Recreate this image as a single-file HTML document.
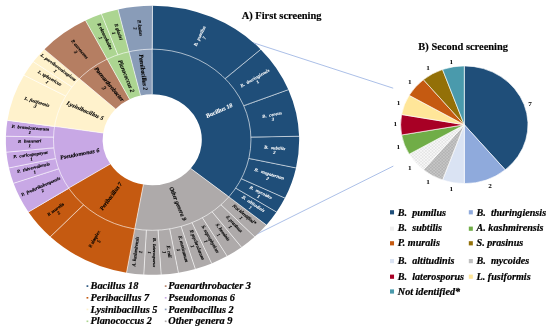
<!DOCTYPE html>
<html><head><meta charset="utf-8"><style>
html,body{margin:0;padding:0;background:#fff;}
body{width:550px;height:330px;overflow:hidden;}
svg{display:block;}
text{font-family:"Liberation Serif","Times New Roman",serif;}
.gi{font-size:5.7px;font-weight:bold;font-style:italic;text-anchor:middle;stroke-width:0.12px;}
.sp{font-size:4.5px;font-weight:bold;font-style:italic;text-anchor:middle;stroke-width:0.12px;}
.sp[fill="#fff"]{stroke-width:0.06px;}
.ttl{font-size:10px;font-weight:bold;stroke:#000;stroke-width:0.15px;}
.lg{font-size:9.3px;font-weight:bold;font-style:italic;}
.lg text{stroke:#000;stroke-width:0.2px;}
.pn{font-size:6.6px;font-weight:bold;text-anchor:middle;}
</style></head><body>
<svg width="550" height="330" viewBox="0 0 550 330">
<defs>
<pattern id="pgray" width="3" height="3" patternUnits="userSpaceOnUse"><rect width="3" height="3" fill="#c6c6c6"/><rect width="1.5" height="1.5" fill="#b3b3b3"/><rect x="1.5" y="1.5" width="1.5" height="1.5" fill="#b3b3b3"/></pattern>
<pattern id="pwhite" width="3" height="3" patternUnits="userSpaceOnUse"><rect width="3" height="3" fill="#f8f8f8"/><rect width="1.5" height="1.5" fill="#e4e4e4"/><rect x="1.5" y="1.5" width="1.5" height="1.5" fill="#e4e4e4"/></pattern>
</defs>
<g transform="scale(1.09,1)">
<line x1="229.36" y1="41.7" x2="360.73" y2="88.2" stroke="#93ade0" stroke-width="0.75"/>
<line x1="232.48" y1="235.8" x2="360.83" y2="166.1" stroke="#93ade0" stroke-width="0.75"/>
<path d="M139.91 5.7A134.55 134.55 0 0 1 239.18 49.43L204.54 81.12A87.6 87.6 0 0 0 139.91 52.65Z" fill="#1f4e79"/>
<path d="M239.18 49.43A134.55 134.55 0 0 1 264.59 89.68L221.09 107.33A87.6 87.6 0 0 0 204.54 81.12Z" fill="#1f4e79"/>
<path d="M264.59 89.68A134.55 134.55 0 0 1 274.4 136.26L227.47 137.65A87.6 87.6 0 0 0 221.09 107.33Z" fill="#1f4e79"/>
<path d="M274.4 136.26A134.55 134.55 0 0 1 271.57 167.96L225.63 158.29A87.6 87.6 0 0 0 227.47 137.65Z" fill="#1f4e79"/>
<path d="M271.57 167.96A134.55 134.55 0 0 1 261.38 198.12L218.99 177.92A87.6 87.6 0 0 0 225.63 158.29Z" fill="#1f4e79"/>
<path d="M261.38 198.12A134.55 134.55 0 0 1 253.68 212.08L213.98 187.01A87.6 87.6 0 0 0 218.99 177.92Z" fill="#1f4e79"/>
<path d="M253.68 212.08A134.55 134.55 0 0 1 244.39 225.03L207.93 195.45A87.6 87.6 0 0 0 213.98 187.01Z" fill="#1f4e79"/>
<path d="M244.39 225.03A134.55 134.55 0 0 1 233.63 236.79L200.93 203.1A87.6 87.6 0 0 0 207.93 195.45Z" fill="#aeaaaa"/>
<path d="M233.63 236.79A134.55 134.55 0 0 1 221.55 247.2L193.06 209.88A87.6 87.6 0 0 0 200.93 203.1Z" fill="#aeaaaa"/>
<path d="M221.55 247.2A134.55 134.55 0 0 1 208.33 256.1L184.46 215.68A87.6 87.6 0 0 0 193.06 209.88Z" fill="#aeaaaa"/>
<path d="M208.33 256.1A134.55 134.55 0 0 1 194.15 263.38L175.22 220.42A87.6 87.6 0 0 0 184.46 215.68Z" fill="#aeaaaa"/>
<path d="M194.15 263.38A134.55 134.55 0 0 1 179.2 268.93L165.49 224.03A87.6 87.6 0 0 0 175.22 220.42Z" fill="#aeaaaa"/>
<path d="M179.2 268.93A134.55 134.55 0 0 1 163.71 272.68L155.4 226.47A87.6 87.6 0 0 0 165.49 224.03Z" fill="#aeaaaa"/>
<path d="M163.71 272.68A134.55 134.55 0 0 1 147.88 274.56L145.1 227.7A87.6 87.6 0 0 0 155.4 226.47Z" fill="#aeaaaa"/>
<path d="M147.88 274.56A134.55 134.55 0 0 1 131.94 274.56L134.72 227.7A87.6 87.6 0 0 0 145.1 227.7Z" fill="#aeaaaa"/>
<path d="M131.94 274.56A134.55 134.55 0 0 1 116.11 272.68L124.41 226.47A87.6 87.6 0 0 0 134.72 227.7Z" fill="#aeaaaa"/>
<path d="M116.11 272.68A134.55 134.55 0 0 1 46.19 236.79L78.89 203.1A87.6 87.6 0 0 0 124.41 226.47Z" fill="#c55a11"/>
<path d="M46.19 236.79A134.55 134.55 0 0 1 26.13 212.08L65.83 187.01A87.6 87.6 0 0 0 78.89 203.1Z" fill="#c55a11"/>
<path d="M26.13 212.08A134.55 134.55 0 0 1 12.45 183.34L56.92 168.31A87.6 87.6 0 0 0 65.83 187.01Z" fill="#c8a8e5"/>
<path d="M12.45 183.34A134.55 134.55 0 0 1 8.24 167.96L54.19 158.29A87.6 87.6 0 0 0 56.92 168.31Z" fill="#c8a8e5"/>
<path d="M8.24 167.96A134.55 134.55 0 0 1 5.89 152.2L52.65 148.03A87.6 87.6 0 0 0 54.19 158.29Z" fill="#c8a8e5"/>
<path d="M5.89 152.2A134.55 134.55 0 0 1 5.42 136.26L52.35 137.65A87.6 87.6 0 0 0 52.65 148.03Z" fill="#c8a8e5"/>
<path d="M5.42 136.26A134.55 134.55 0 0 1 6.83 120.38L53.27 127.32A87.6 87.6 0 0 0 52.35 137.65Z" fill="#c8a8e5"/>
<path d="M6.83 120.38A134.55 134.55 0 0 1 22.08 75.29L63.19 97.96A87.6 87.6 0 0 0 53.27 127.32Z" fill="#fff2cc"/>
<path d="M22.08 75.29A134.55 134.55 0 0 1 30.59 61.81L68.73 89.18A87.6 87.6 0 0 0 63.19 97.96Z" fill="#fff2cc"/>
<path d="M30.59 61.81A134.55 134.55 0 0 1 40.63 49.43L75.27 81.12A87.6 87.6 0 0 0 68.73 89.18Z" fill="#fff2cc"/>
<path d="M40.63 49.43A134.55 134.55 0 0 1 78.47 20.55L99.91 62.32A87.6 87.6 0 0 0 75.27 81.12Z" fill="#b57e62"/>
<path d="M78.47 20.55A134.55 134.55 0 0 1 93.06 14.12L109.41 58.13A87.6 87.6 0 0 0 99.91 62.32Z" fill="#acd591"/>
<path d="M93.06 14.12A134.55 134.55 0 0 1 108.3 9.46L119.33 55.1A87.6 87.6 0 0 0 109.41 58.13Z" fill="#acd591"/>
<path d="M108.3 9.46A134.55 134.55 0 0 1 139.91 5.7L139.91 52.65A87.6 87.6 0 0 0 119.33 55.1Z" fill="#899cb8"/>
<path d="M139.63 49.15A90.6 90.6 0 0 1 209.99 196.84L174.96 168.42A45.5 45.5 0 0 0 139.63 94.25Z" fill="#1f4e79"/>
<path d="M209.99 196.84A90.6 90.6 0 0 1 123.61 228.92L131.58 184.53A45.5 45.5 0 0 0 174.96 168.42Z" fill="#aeaaaa"/>
<path d="M123.61 228.92A90.6 90.6 0 0 1 63.02 188.11L101.16 164.04A45.5 45.5 0 0 0 131.58 184.53Z" fill="#c55a11"/>
<path d="M63.02 188.11A90.6 90.6 0 0 1 50.03 126.37L94.63 133.03A45.5 45.5 0 0 0 101.16 164.04Z" fill="#c8a8e5"/>
<path d="M50.03 126.37A90.6 90.6 0 0 1 72.79 78.6L106.06 109.04A45.5 45.5 0 0 0 94.63 133.03Z" fill="#fff2cc"/>
<path d="M72.79 78.6A90.6 90.6 0 0 1 98.26 59.15L118.86 99.27A45.5 45.5 0 0 0 106.06 109.04Z" fill="#b57e62"/>
<path d="M98.26 59.15A90.6 90.6 0 0 1 118.35 51.68L128.95 95.52A45.5 45.5 0 0 0 118.86 99.27Z" fill="#acd591"/>
<path d="M118.35 51.68A90.6 90.6 0 0 1 139.63 49.15L139.63 94.25A45.5 45.5 0 0 0 128.95 95.52Z" fill="#899cb8"/>
<path d="M139.63 94.25L139.63 49.15M174.96 168.42L209.99 196.84M131.58 184.53L123.61 228.92M101.16 164.04L63.02 188.11M94.63 133.03L50.03 126.37M106.06 109.04L72.79 78.6M118.86 99.27L98.26 59.15M128.95 95.52L118.35 51.68M139.63 49.15L139.91 5.4M206.48 78.6L239.41 49.23M223.59 105.7L264.87 89.57M230.19 137.07L274.7 136.25M228.29 158.41L271.87 168.03M221.43 178.71L261.65 198.24M216.24 188.11L253.94 212.24M209.99 196.84L244.62 225.22M202.74 204.76L233.84 237.01M194.61 211.76L221.74 247.44M185.71 217.76L208.48 256.36M176.16 222.66L194.27 263.66M166.09 226.4L179.29 269.22M155.66 228.92L163.76 272.97M145 230.19L147.9 274.86M134.27 230.19L131.92 274.86M123.61 228.92L116.05 272.97M76.53 204.76L45.98 237.01M63.02 188.11L25.88 212.24M53.81 168.77L12.16 183.44M50.98 158.41L7.95 168.03M49.39 147.79L5.59 152.22M49.07 137.07L5.12 136.25M50.03 126.37L6.54 120.34M60.29 96.01L21.82 75.15M66.02 86.93L30.34 61.64M72.79 78.6L40.41 49.23M98.26 59.15L78.33 20.28M108.09 54.82L92.95 13.84M118.35 51.68L108.23 9.17" stroke="#fff" stroke-opacity="0.85" stroke-width="0.7" fill="none"/>
<circle cx="139.63" cy="139.75" r="90.6" stroke="#fff" stroke-opacity="0.85" stroke-width="0.7" fill="none"/>
<text class="gi" transform="translate(201.07 110.48) rotate(-25.47)" fill="#fff" stroke="#fff" y="2">Bacillus 18</text>
<text class="gi" transform="translate(163.33 203.54) rotate(69.62)" fill="#000" stroke="#000" y="2">Other genera 9</text>
<text class="gi" transform="translate(101.62 196.19) rotate(303.96)" fill="#000" stroke="#000" y="2">Peribacillus 7</text>
<text class="gi" transform="translate(73.04 153.77) rotate(348.11)" fill="#000" stroke="#000" y="2">Pseudomonas 6</text>
<text class="gi" transform="translate(78.2 110.48) rotate(385.47)" fill="#000" stroke="#000" y="2">Lysinibacillus 5</text>
<text class="gi" transform="translate(98.34 85.66) rotate(412.64)" fill="#000" stroke="#000"><tspan x="0" y="-0.6">Paenarthrobacter</tspan><tspan x="0" y="5.6">3</tspan></text>
<text class="gi" transform="translate(115.94 75.96) rotate(429.62)" fill="#000" stroke="#000" y="2">Planococcus 2</text>
<text class="gi" transform="translate(131.58 72.18) rotate(443.21)" fill="#000" stroke="#000" y="2">Paenibacillus 2</text>
<text class="sp" transform="translate(185.15 36.98) rotate(-66.23)" fill="#fff" stroke="#fff"><tspan x="0" y="-0.7">B.  pumilus</tspan><tspan x="0" y="4">7</tspan></text>
<text class="sp" transform="translate(234.96 79.9) rotate(-32.26)" fill="#fff" stroke="#fff"><tspan x="0" y="-0.7">B.  thuringiensis</tspan><tspan x="0" y="4">1</tspan></text>
<text class="sp" transform="translate(249.93 116.81) rotate(-11.89)" fill="#fff" stroke="#fff"><tspan x="0" y="-0.7">B.  cereus</tspan><tspan x="0" y="4">3</tspan></text>
<text class="sp" transform="translate(251.9 150) rotate(5.09)" fill="#fff" stroke="#fff"><tspan x="0" y="-0.7">B.  subtilis</tspan><tspan x="0" y="4">2</tspan></text>
<text class="sp" transform="translate(246.42 176.05) rotate(18.68)" fill="#fff" stroke="#fff"><tspan x="0" y="-0.7">B.  megaterium</tspan><tspan x="0" y="4">2</tspan></text>
<text class="sp" transform="translate(238.36 194.35) rotate(28.87)" fill="#fff" stroke="#fff"><tspan x="0" y="-0.7">B.  mycoides</tspan><tspan x="0" y="4">1</tspan></text>
<text class="sp" transform="translate(231.24 205.63) rotate(35.66)" fill="#fff" stroke="#fff"><tspan x="0" y="-0.7">B.  altitudinis</tspan><tspan x="0" y="4">1</tspan></text>
<text class="sp" transform="translate(222.83 215.99) rotate(42.45)" fill="#000" stroke="#000"><tspan x="0" y="-0.7">Not identified*</tspan><tspan x="0" y="4">1</tspan></text>
<text class="sp" transform="translate(213.26 225.28) rotate(49.25)" fill="#000" stroke="#000"><tspan x="0" y="-0.7">S. prasinus</tspan><tspan x="0" y="4">1</tspan></text>
<text class="sp" transform="translate(202.66 233.37) rotate(56.04)" fill="#000" stroke="#000"><tspan x="0" y="-0.7">S. hominis</tspan><tspan x="0" y="4">1</tspan></text>
<text class="sp" transform="translate(191.18 240.15) rotate(62.83)" fill="#000" stroke="#000"><tspan x="0" y="-0.7">S. saprophyticus</tspan><tspan x="0" y="4">1</tspan></text>
<text class="sp" transform="translate(178.97 245.53) rotate(69.62)" fill="#000" stroke="#000"><tspan x="0" y="-0.7">P. psychrodurans</tspan><tspan x="0" y="4">1</tspan></text>
<text class="sp" transform="translate(166.21 249.43) rotate(76.42)" fill="#000" stroke="#000"><tspan x="0" y="-0.7">E. mexicanum</tspan><tspan x="0" y="4">1</tspan></text>
<text class="sp" transform="translate(153.09 251.78) rotate(83.21)" fill="#000" stroke="#000"><tspan x="0" y="-0.7">E. coli</tspan><tspan x="0" y="4">1</tspan></text>
<text class="sp" transform="translate(139.77 252.57) rotate(90)" fill="#000" stroke="#000"><tspan x="0" y="-0.7">B.  laterosporus</tspan><tspan x="0" y="4">1</tspan></text>
<text class="sp" transform="translate(126.46 251.78) rotate(276.79)" fill="#000" stroke="#000"><tspan x="0" y="-0.7">A. kashmirensis</tspan><tspan x="0" y="4">1</tspan></text>
<text class="sp" transform="translate(88.37 240.15) rotate(297.17)" fill="#000" stroke="#000"><tspan x="0" y="-0.7">P. simplex</tspan><tspan x="0" y="4">5</tspan></text>
<text class="sp" transform="translate(52.35 210.93) rotate(320.94)" fill="#000" stroke="#000"><tspan x="0" y="-0.7">P. muralis</tspan><tspan x="0" y="4">2</tspan></text>
<text class="sp" transform="translate(38.14 188.41) rotate(334.53)" fill="#000" stroke="#000"><tspan x="0" y="-0.7">P.  frederiksbergensis</tspan><tspan x="0" y="4">2</tspan></text>
<text class="sp" transform="translate(31.18 169.67) rotate(344.72)" fill="#000" stroke="#000"><tspan x="0" y="-0.7">P.  thivervalensis</tspan><tspan x="0" y="4">1</tspan></text>
<text class="sp" transform="translate(28.43 156.62) rotate(351.51)" fill="#000" stroke="#000"><tspan x="0" y="-0.7">P.  caricapapayae</tspan><tspan x="0" y="4">1</tspan></text>
<text class="sp" transform="translate(27.25 143.34) rotate(358.3)" fill="#000" stroke="#000"><tspan x="0" y="-0.7">P.  brenneri</tspan><tspan x="0" y="4">1</tspan></text>
<text class="sp" transform="translate(27.64 130) rotate(365.09)" fill="#000" stroke="#000"><tspan x="0" y="-0.7">P.  brassicacearum</tspan><tspan x="0" y="4">1</tspan></text>
<text class="sp" transform="translate(33.13 103.95) rotate(378.68)" fill="#000" stroke="#000"><tspan x="0" y="-0.7">L. fusiformis</tspan><tspan x="0" y="4">3</tspan></text>
<text class="sp" transform="translate(44.58 79.9) rotate(392.26)" fill="#000" stroke="#000"><tspan x="0" y="-0.7">L. sphaericus</tspan><tspan x="0" y="4">1</tspan></text>
<text class="sp" transform="translate(52.35 69.07) rotate(399.06)" fill="#000" stroke="#000"><tspan x="0" y="-0.7">L. parviboronicapiens</tspan><tspan x="0" y="4">1</tspan></text>
<text class="sp" transform="translate(71.46 50.52) rotate(412.64)" fill="#000" stroke="#000"><tspan x="0" y="-0.7">P. aurescens</tspan><tspan x="0" y="4">3</tspan></text>
<text class="sp" transform="translate(94.39 36.98) rotate(426.23)" fill="#000" stroke="#000"><tspan x="0" y="-0.7">P. okeanokoites</tspan><tspan x="0" y="4">1</tspan></text>
<text class="sp" transform="translate(106.89 32.33) rotate(433.02)" fill="#000" stroke="#000"><tspan x="0" y="-0.7">P. glaciei</tspan><tspan x="0" y="4">1</tspan></text>
<text class="sp" transform="translate(126.46 28.22) rotate(443.21)" fill="#000" stroke="#000"><tspan x="0" y="-0.7">P. lautus</tspan><tspan x="0" y="4">2</tspan></text>
<g transform="translate(0 -0.96) scale(1 1.0077)"><path d="M425.96 124.75L425.96 66.35A58.4 58.4 0 0 1 463.5 169.49Z" fill="#1f4e79" stroke="#fff" stroke-width="0.6"/>
<path d="M425.96 124.75L463.5 169.49A58.4 58.4 0 0 1 425.96 183.15Z" fill="#8faadc" stroke="#fff" stroke-width="0.6"/>
<path d="M425.96 124.75L425.96 183.15A58.4 58.4 0 0 1 405.99 179.63Z" fill="#dae3f3" stroke="#fff" stroke-width="0.6"/>
<path d="M425.96 124.75L405.99 179.63A58.4 58.4 0 0 1 388.42 169.49Z" fill="url(#pgray)" stroke="#fff" stroke-width="0.6"/>
<path d="M425.96 124.75L388.42 169.49A58.4 58.4 0 0 1 375.39 153.95Z" fill="url(#pwhite)" stroke="#fff" stroke-width="0.6"/>
<path d="M425.96 124.75L375.39 153.95A58.4 58.4 0 0 1 368.45 134.89Z" fill="#70ad47" stroke="#fff" stroke-width="0.6"/>
<path d="M425.96 124.75L368.45 134.89A58.4 58.4 0 0 1 368.45 114.61Z" fill="#a80025" stroke="#fff" stroke-width="0.6"/>
<path d="M425.96 124.75L368.45 114.61A58.4 58.4 0 0 1 375.39 95.55Z" fill="#ffe699" stroke="#fff" stroke-width="0.6"/>
<path d="M425.96 124.75L375.39 95.55A58.4 58.4 0 0 1 388.42 80.01Z" fill="#c55a11" stroke="#fff" stroke-width="0.6"/>
<path d="M425.96 124.75L388.42 80.01A58.4 58.4 0 0 1 405.99 69.87Z" fill="#937008" stroke="#fff" stroke-width="0.6"/>
<path d="M425.96 124.75L405.99 69.87A58.4 58.4 0 0 1 425.96 66.35Z" fill="#4a9aac" stroke="#fff" stroke-width="0.6"/></g>
<text class="ttl" x="221.7" y="18.6" textLength="73.3" lengthAdjust="spacingAndGlyphs">A) First screening</text>
<text class="ttl" x="383.8" y="49.8" textLength="82.3" lengthAdjust="spacingAndGlyphs">B) Second screening</text>
<g class="lg" style="font-size:9.45px">
<rect x="79.4" y="285.3" width="1.6" height="1.6" fill="#1f4e79"/><text x="83.1" y="289.3">Bacillus 18</text>
<rect x="79.4" y="297" width="1.6" height="1.6" fill="#c55a11"/><text x="83.1" y="301">Peribacillus 7</text>
<rect x="79.4" y="308.6" width="1.6" height="1.6" fill="#fff2cc"/><text x="83.1" y="312.7">Lysinibacillus 5</text>
<rect x="79.4" y="320.5" width="1.6" height="1.6" fill="#acd591"/><text x="83.1" y="324.5">Planococcus 2</text>
<rect x="151.2" y="285.3" width="1.6" height="1.6" fill="#b57e62"/><text x="154.4" y="289.3">Paenarthrobacter 3</text>
<rect x="151.2" y="297" width="1.6" height="1.6" fill="#c8a8e5"/><text x="154.4" y="301">Pseudomonas 6</text>
<rect x="151.2" y="308.6" width="1.6" height="1.6" fill="#899cb8"/><text x="154.4" y="312.7">Paenibacillus 2</text>
<rect x="151.2" y="320.5" width="1.6" height="1.6" fill="#aeaaaa"/><text x="154.4" y="324.5">Other genera 9</text>
</g>
<g class="lg">
<rect x="357.8" y="210.2" width="3.7" height="4.2" fill="#1f4e79"/><text x="365" y="216">B.&#160; pumilus</text>
<rect x="430.1" y="210.2" width="3.7" height="4.2" fill="#8faadc"/><text x="437.2" y="216">B.&#160; thuringiensis</text>
<rect x="357.8" y="226.6" width="3.7" height="4.2" fill="#f0f0f0"/><text x="365" y="231.2">B.&#160; subtilis</text>
<rect x="430.1" y="226.6" width="3.7" height="4.2" fill="#70ad47"/><text x="437.2" y="231.2">A. kashmirensis</text>
<rect x="357.8" y="241.2" width="3.7" height="4.2" fill="#c55a11"/><text x="365" y="246">P. muralis</text>
<rect x="430.1" y="241.2" width="3.7" height="4.2" fill="#937008"/><text x="437.2" y="246">S. prasinus</text>
<rect x="357.8" y="259" width="3.7" height="4.2" fill="#dae3f3"/><text x="365" y="264.3">B.&#160; altitudinis</text>
<rect x="430.1" y="259" width="3.7" height="4.2" fill="#bfbfbf"/><text x="437.2" y="264.3">B.&#160; mycoides</text>
<rect x="357.8" y="274.6" width="3.7" height="4.2" fill="#a80025"/><text x="365" y="279.8">B.&#160; laterosporus</text>
<rect x="430.1" y="274.6" width="3.7" height="4.2" fill="#ffe699"/><text x="437.2" y="279.8">L. fusiformis</text>
<rect x="357.8" y="289.4" width="3.7" height="4.2" fill="#4a9aac"/><text x="365" y="294.9">Not identified*</text>
</g>
<g class="pn">
<text x="486.2" y="106.5">7</text>
<text x="449.5" y="188.5">2</text>
<text x="414.1" y="190.7">1</text>
<text x="392.7" y="183.8">1</text>
<text x="376" y="170.2">1</text>
<text x="365.5" y="149.0">1</text>
<text x="362.6" y="126.4">1</text>
<text x="365.6" y="104.6">1</text>
<text x="376" y="84.1">1</text>
<text x="392.7" y="69.7">1</text>
<text x="414.1" y="64.2">1</text>
</g>
</g>
</svg>
</body></html>
